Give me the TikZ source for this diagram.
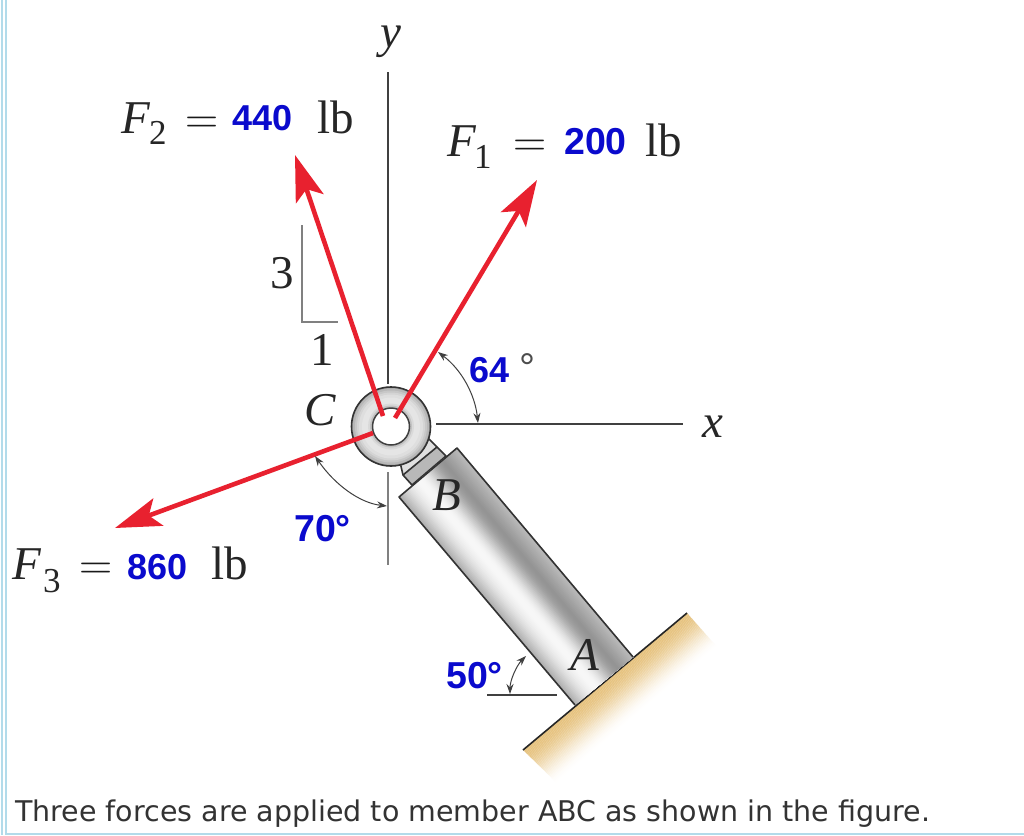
\documentclass[tikz,border=0pt]{standalone}
\usepackage{fontspec}
\newfontfamily\serifL{Liberation Serif}
\newfontfamily\valfont{Liberation Sans}
\newfontfamily\capfont{DejaVu Sans}
\usetikzlibrary{arrows.meta,calc}
\definecolor{forcered}{HTML}{E8212F}
\definecolor{valblue}{HTML}{0A0ACD}
\definecolor{walltan}{HTML}{E6C27E}
\definecolor{framebl}{HTML}{B2DBEA}
\definecolor{axisgr}{HTML}{404040}
\tikzset{
  x=1pt,y=-1pt,
  txt/.style={anchor=base west,inner sep=0pt,font=\fontsize{47}{47}\selectfont\serifL,text=black!85},
  sym/.style={txt,font=\fontsize{47}{47}\selectfont\serifL\itshape},
  subs/.style={txt,font=\fontsize{35}{35}\selectfont\serifL},
  eqsign/.style={anchor=base west,inner sep=0pt,text=black!90,font=\fontsize{46}{46}\selectfont},
  val/.style={anchor=base west,inner sep=0pt,text=valblue,font=\fontsize{36}{36}\selectfont\valfont\bfseries},
  valwide/.style={val,font=\fontsize{37.5}{37.5}\selectfont\valfont\bfseries},
  axisline/.style={draw=axisgr,line width=1.8pt},
  thinline/.style={draw=black!50,line width=1.4pt},
  force/.style={draw=forcered,line width=4.6pt,-{Stealth[length=46pt,width=29pt,inset=10pt]}},
  dimarc/.style={draw=black!75,line width=1pt,{Stealth[length=10pt,width=7pt]}-{Stealth[length=10pt,width=7pt]}},
  outline/.style={draw=black!80,line width=1.6pt,line join=round}
}
\begin{document}
\begin{tikzpicture}
\useasboundingbox (0,0) rectangle (1024,835);
\fill[white] (0,0) rectangle (1024,835);
% frame
\fill[framebl] (1,0) rectangle (2.8,835);
\fill[framebl] (5,0) rectangle (6.8,835);
\fill[framebl] (5,833) rectangle (1024,835);
% key points
\coordinate (C) at (391,426.5);
\coordinate (wallL) at (523,750);
\coordinate (wallR) at (687,613);
\coordinate (wallL2) at (557,783);
\coordinate (wallR2) at (717,647);
\coordinate (TL) at (399,497);
\coordinate (TR) at (457,448);
\coordinate (BL) at (575,705);
\coordinate (BR) at (633,657);
% wall
\foreach \i in {0,...,39}{
  \pgfmathsetmacro\t{\i/40}
  \pgfmathsetmacro\p{100*(cos(\t*90))^2}
  \fill[walltan!\p!white] ($(wallL)!\t!(wallL2)$) -- ($(wallR)!\t!(wallR2)$) -- ($(wallR)!\t+0.026!(wallR2)$) -- ($(wallL)!\t+0.026!(wallL2)$) -- cycle;
}
\draw[outline,draw=black!85] (wallL) -- (wallR);
% y axis
\coordinate (yTop) at (388,72);
\coordinate (yMid) at (388,384);
\coordinate (yLow) at (388,472);
\coordinate (yEnd) at (388,565);
\draw[axisline] (yTop) -- (yMid);
\draw[thinline] (yLow) -- (yEnd);
% x axis
\coordinate (xStart) at (436,424);
\coordinate (xEnd) at (683,424);
\draw[axisline] (xStart) -- (xEnd);
% stem between ring and collar
\coordinate (kA) at (400,462);
\coordinate (kB) at (426,436);
\coordinate (nA) at (403,475);
\coordinate (nB) at (437,447);
\coordinate (nC) at (446,456);
\coordinate (nD) at (412,485);
\fill[black!12] (kA) -- (kB) -- (nB) -- (nA) -- cycle;
\draw[outline] (kA) -- (nA);
\draw[outline] (kB) -- (nB);
% collar
\fill[black!28] (nA) -- (nB) -- (nC) -- (nD) -- cycle;
\draw[outline] (nA) -- (nB) -- (nC) -- (nD) -- cycle;
% cylinder
\foreach \i in {0,...,59}{
  \pgfmathsetmacro\t{\i/60}
  \pgfmathsetmacro\g{\t<0.35 ? 68+29*sin(\t/0.35*90) : (\t<0.75 ? 58+19.5*(cos((\t-0.35)/0.4*180)+1) : 58+16*(\t-0.75)/0.25)}
  \fill[white!\g!black] ($(TL)!\t!(TR)$) -- (TR) -- (BR) -- ($(BL)!\t!(BR)$) -- cycle;
}
\draw[outline] (BL) -- (TL) -- (TR) -- (BR);
% ring
\foreach \r/\g in {40/66,38/72,36/78,34/83,32/87,29/90,26/90,23/85,21/76}{
  \fill[white!\g!black] (C) circle[radius=\r];
}
\draw[outline] (C) circle[radius=39.5];
\fill[white] (C) circle[radius=18.5];
\draw[draw=black!75,line width=1.5pt] (C) circle[radius=18.5];
% forces
\coordinate (f1s) at (395,418);
\coordinate (f1t) at (537,180);
\coordinate (f2s) at (383,416);
\coordinate (f2t) at (295,155);
\coordinate (f3s) at (373,433);
\coordinate (f3t) at (115,528);
\draw[force] (f1s) -- (f1t);
\draw[force] (f2s) -- (f2t);
\draw[force] (f3s) -- (f3t);
% slope triangle
\coordinate (sA) at (302,225);
\coordinate (sB) at (302,322);
\coordinate (sC) at (338,322);
\draw[thinline,line width=1.2pt] (sA) -- (sB) -- (sC);
% angle arcs
\coordinate (a1s) at (438,352);
\coordinate (a1e) at (478,423);
\draw[dimarc] (a1s) .. controls (462,370) and (475,395) .. (a1e);
\coordinate (a2s) at (315,456);
\coordinate (a2e) at (387,506);
\draw[dimarc] (a2s) .. controls (335,485) and (360,503) .. (a2e);
\coordinate (a3s) at (526,656);
\coordinate (a3e) at (510,694);
\draw[dimarc] (a3s) .. controls (517,665) and (510,680) .. (a3e);
\coordinate (b5s) at (487,695);
\coordinate (b5e) at (557,695);
\draw[draw=black!75,line width=1.2pt] (b5s) -- (b5e);
% labels
\node[sym] (ly) at (380,47) {y};
\node[sym] (lx) at (702,437) {x};
\node[sym] (lC) at (304,425) {C};
\node[sym] (lB) at (432,510) {B};
\node[sym] (lA) at (570,670) {A};
\node[txt] (l3) at (270,288) {3};
\node[txt] (l1) at (310,365) {1};
% F2
\node[sym] (F2a) at (121,133) {F};
\node[subs] (F2b) at (149,144) {2};
\node[eqsign] (F2c) at (185,133) {=};
\node[val] (F2v) at (232,130) {440};
\node[txt] (F2u) at (317,133) {lb};
% F1
\node[sym] (F1a) at (447,156) {F};
\node[subs] (F1b) at (474,168) {1};
\node[eqsign] (F1c) at (513,156) {=};
\node[valwide] (F1v) at (564,154) {200};
\node[txt] (F1u) at (645,156) {lb};
% F3
\node[sym] (F3a) at (12,579) {F};
\node[subs] (F3b) at (43,592) {3};
\node[eqsign] (F3c) at (79,579) {=};
\node[val] (F3v) at (127,579) {860};
\node[txt] (F3u) at (211,579) {lb};
% angle values
\node[val] (v64) at (469,382) {64};
\node[val,text=black!70,font=\fontsize{40}{40}\selectfont\valfont] (d64) at (519,381) {°};
\node[valwide] (v70) at (294,541) {70°};
\node[valwide] (v50) at (446,688) {50°};
% caption
\node[anchor=base west,inner sep=0pt,text=black!80,font=\fontsize{28.5}{28.5}\selectfont\capfont] (cap) at (15,821) {Three forces are applied to member ABC as shown in the figure.};
\end{tikzpicture}
\end{document}
